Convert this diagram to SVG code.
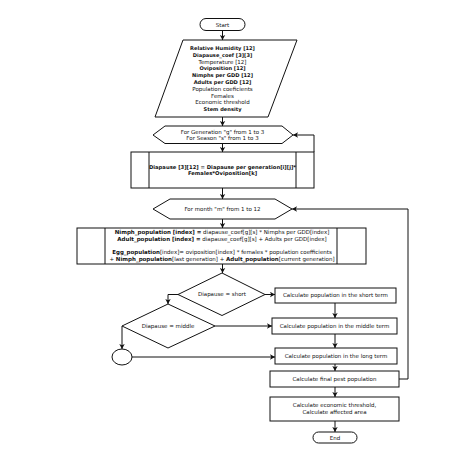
<svg xmlns="http://www.w3.org/2000/svg" width="474" height="451" viewBox="0 0 474 451">
<defs>
<style>
.s{fill:#fff;stroke:#111;stroke-width:1}
.t{font-family:"DejaVu Sans","Liberation Sans",sans-serif;font-size:5.5px;fill:#111;text-anchor:middle}
.b{font-weight:bold;font-size:5.1px}
.c{fill:none;stroke:#111;stroke-width:1}
</style>
<marker id="ar" markerUnits="userSpaceOnUse" markerWidth="6" markerHeight="6" refX="5" refY="3" orient="auto">
<path d="M0,0.3 L5,3 L0,5.7 L1.2,3 Z" fill="#111"/>
</marker>
</defs>
<rect width="474" height="451" fill="#fff"/>
<g id="connectors">
<path class="c" d="M222.5,31 V40" marker-end="url(#ar)"/>
<path class="c" d="M222.5,117 V126" marker-end="url(#ar)"/>
<path class="c" d="M222.5,143 V152" marker-end="url(#ar)"/>
<path class="c" d="M314,152 V135 H293" marker-end="url(#ar)"/>
<path class="c" d="M222.5,188 V199" marker-end="url(#ar)"/>
<path class="c" d="M222.5,219 V228" marker-end="url(#ar)"/>
<path class="c" d="M222.5,264 V273" marker-end="url(#ar)"/>
<path class="c" d="M265,294.5 H275" marker-end="url(#ar)"/>
<path class="c" d="M178,294.5 H168 V304" marker-end="url(#ar)"/>
<path class="c" d="M215,326 H272" marker-end="url(#ar)"/>
<path class="c" d="M122,326 V349" marker-end="url(#ar)"/>
<path class="c" d="M132,357 H275" marker-end="url(#ar)"/>
<path class="c" d="M335,303 V318" marker-end="url(#ar)"/>
<path class="c" d="M335,334 V348" marker-end="url(#ar)"/>
<path class="c" d="M335,364 V371" marker-end="url(#ar)"/>
<path class="c" d="M335,387 V397" marker-end="url(#ar)"/>
<path class="c" d="M335,421 V432" marker-end="url(#ar)"/>
<path class="c" d="M399,379 H408 V209 H292" marker-end="url(#ar)"/>
</g>
<g id="start">
<rect class="s" x="200" y="18.5" width="45" height="12" rx="6" stroke-width="1.3"/>
<text class="t" x="222.5" y="26.5">Start</text>
</g>
<g id="inputs">
<polygon class="s" points="183,40 297,40 268,117 155,117"/>
<text class="t b" x="222.5" y="50">Relative Humidity [12]</text>
<text class="t b" x="222.5" y="56.8">Diapause_coef [3][3]</text>
<text class="t" x="222.5" y="63.6">Temperature [12]</text>
<text class="t b" x="222.5" y="70.4">Oviposition [12]</text>
<text class="t b" x="222.5" y="77.2">Nimphs per GDD [12]</text>
<text class="t b" x="222.5" y="84">Adults per GDD [12]</text>
<text class="t" x="222.5" y="90.8">Population coeficients</text>
<text class="t" x="222.5" y="97.6">Females</text>
<text class="t" x="222.5" y="104.4">Economic threshold</text>
<text class="t b" x="222.5" y="111.2">Stem density</text>
</g>
<g id="loop-generation">
<polygon class="s" points="153,135 165,126 282,126 293,135 282,143.5 165,143.5"/>
<text class="t" x="222.5" y="133.5">For Generation "g" from 1 to 3</text>
<text class="t" x="222.5" y="140">For Season "s" from 1 to 3</text>
</g>
<g id="diapause">
<rect class="s" x="131" y="152" width="183" height="36"/>
<line class="c" x1="149" y1="152" x2="149" y2="188"/>
<line class="c" x1="296" y1="152" x2="296" y2="188"/>
<text class="t b" x="222.5" y="168.5" style="font-size:5.25px">Diapause [3][12] = Diapause per generation[i][j]*</text>
<text class="t b" x="222.5" y="175" style="font-size:5.25px">Females*Oviposition[k]</text>
</g>
<g id="loop-month">
<polygon class="s" points="153,209 170,199 275,199 292,209 275,219 170,219"/>
<text class="t" x="222.5" y="211">For month "m" from 1 to 12</text>
</g>
<g id="population">
<rect class="s" x="77" y="228" width="289" height="36"/>
<line class="c" x1="105" y1="228" x2="105" y2="264"/>
<line class="c" x1="337" y1="228" x2="337" y2="264"/>
<text class="t" x="222" y="234"><tspan class="b" style="font-size:5.5px">Nimph_population [index] =</tspan> diapause_coef[g][s] * Nimphs per GDD[index]</text>
<text class="t" x="222" y="240.8"><tspan class="b" style="font-size:5.5px">Adult_population [index] =</tspan> diapause_coef[g][s] + Adults per GDD[index]</text>
<text class="t" x="222" y="254.2"><tspan class="b" style="font-size:5.5px">Egg_population</tspan>[index]= oviposition[index] * females * population coefficients</text>
<text class="t" x="222" y="260.6">+ <tspan class="b" style="font-size:5.5px">Nimph_population</tspan>[last generation] + <tspan class="b" style="font-size:5.5px">Adult_population</tspan>[current generation]</text>
</g>
<g id="decision-short">
<polygon class="s" points="222,273 265,294.5 222,315.5 178,294.5"/>
<text class="t" x="222" y="296.3">Diapause = short</text>
</g>
<g id="decision-middle">
<polygon class="s" points="168,304 215,326 168,348 122,326"/>
<text class="t" x="168" y="327.8">Diapause = middle</text>
</g>
<g id="connector-circle">
<ellipse class="s" cx="122" cy="357" rx="10" ry="8"/>
</g>
<g id="short-term">
<rect class="s" x="275" y="288" width="121" height="15"/>
<text class="t" x="335.5" y="297.3">Calculate population in the short term</text>
</g>
<g id="middle-term">
<rect class="s" x="272" y="318" width="125" height="16"/>
<text class="t" x="334.5" y="327.8">Calculate population in the middle term</text>
</g>
<g id="long-term">
<rect class="s" x="275" y="348" width="122" height="16"/>
<text class="t" x="336" y="357.8">Calculate population in the long term</text>
</g>
<g id="final">
<rect class="s" x="270" y="371" width="129" height="16"/>
<text class="t" x="334.5" y="380.8">Calculate final pest population</text>
</g>
<g id="economic">
<rect class="s" x="270" y="397" width="129" height="24"/>
<text class="t" x="334.5" y="406.5">Calculate economic threshold,</text>
<text class="t" x="334.5" y="414">Calculate affected area</text>
</g>
<g id="end">
<rect class="s" x="313" y="432" width="44" height="11" rx="5.5" stroke-width="1.3"/>
<text class="t" x="335" y="439.6">End</text>
</g>
</svg>
